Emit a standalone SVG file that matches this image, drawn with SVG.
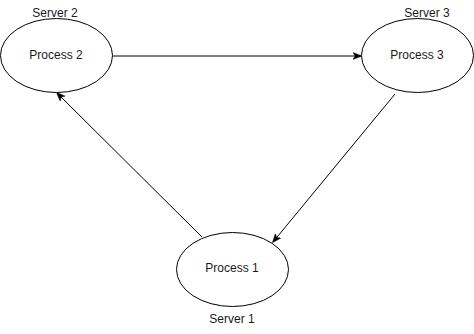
<svg xmlns="http://www.w3.org/2000/svg" width="474" height="334" viewBox="0 0 474 334">
<style>
.node ellipse{fill:#fff;stroke:#000;stroke-width:1}
text{font-family:"Liberation Sans",Arial,sans-serif;font-size:12px;fill:#1a1a1a;text-anchor:middle;dominant-baseline:central}
.edge{stroke:#000;stroke-width:1;fill:none;marker-end:url(#arr)}
</style>
<defs>
<marker id="arr" viewBox="0 0 10 10" refX="9" refY="5" markerWidth="9" markerHeight="9" markerUnits="userSpaceOnUse" orient="auto">
<path d="M0,1 L10,5 L0,9 L2.5,5 Z" fill="#000" stroke="#000" stroke-width="0.5"/>
</marker>
</defs>
<rect width="474" height="334" fill="#fff"/>
<g id="connectors">
<line class="edge" x1="113" y1="56" x2="361" y2="56"/>
<line class="edge" x1="395" y1="94" x2="273" y2="242"/>
<line class="edge" x1="202" y1="237" x2="57" y2="93"/>
</g>
<g id="node-p2" class="node">
<ellipse cx="56.5" cy="55.5" rx="56" ry="37"/>
<text x="56" y="55">Process 2</text>
<text x="55" y="13">Server 2</text>
</g>
<g id="node-p3" class="node">
<ellipse cx="417.5" cy="55.5" rx="56" ry="37"/>
<text x="417" y="55">Process 3</text>
<text x="427" y="13">Server 3</text>
</g>
<g id="node-p1" class="node">
<ellipse cx="232.5" cy="269.5" rx="56" ry="37"/>
<text x="232" y="268">Process 1</text>
<text x="232" y="319">Server 1</text>
</g>
</svg>
